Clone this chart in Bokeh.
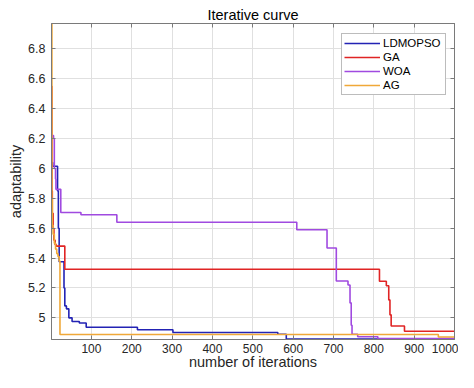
from bokeh.plotting import figure
from bokeh.models import Range1d, FixedTicker, LinearAxis, CustomJSTickFormatter
from bokeh.embed import file_html
from bokeh.resources import INLINE

# ---- data ----
iter_ldmopso = [1, 4, 16, 18, 20, 32, 34, 38, 44, 52, 70, 87, 214, 302, 562, 583, 1000]
fit_ldmopso = [6.04, 6.015, 5.85, 5.6, 5.375, 5.2, 5.08, 5.06, 5.0, 4.975, 4.965, 4.937,
               4.92, 4.902, 4.89, 4.858, 4.858]

iter_ga = [1, 2, 3, 5, 7, 10, 13, 34, 814, 831, 837, 840, 843, 876, 1000]
fit_ga = [6.55, 5.85, 5.7, 5.6, 5.52, 5.49, 5.48, 5.325, 5.245, 5.215, 5.12, 5.02,
          4.945, 4.91, 4.91]

iter_woa = [1, 6, 8, 11, 12, 24, 74, 163, 609, 684, 707, 736, 741, 744, 746, 760, 810, 1000]
fit_woa = [6.22, 6.2, 6.0, 5.93, 5.86, 5.705, 5.69, 5.64, 5.59, 5.467, 5.247, 5.22,
           5.1, 4.95, 4.89, 4.873, 4.862, 4.862]

iter_ag = [1, 2, 3, 5, 8, 11, 14, 17, 20, 22, 960, 1000]
fit_ag = [6.97, 5.8, 5.62, 5.56, 5.5, 5.46, 5.43, 5.41, 5.38, 4.888, 4.872, 4.872]

series_names = ["LDMOPSO", "GA", "WOA", "AG"]
x_ticks = [100, 200, 300, 400, 500, 600, 700, 800, 900, 1000]
y_ticks = [5.0, 5.2, 5.4, 5.6, 5.8, 6.0, 6.2, 6.4, 6.6, 6.8]

title_text = "Iterative curve"
x_label = "number of iterations"
y_label = "adaptability"

# ---- styling ----
colors = ["#2323b4", "#e02424", "#a04ae0", "#f0a838"]
FONT = "Liberation Sans"
AXIS_COL = "#7a7a7a"
TXT_COL = "#262626"

x0, x1 = 1, 1000
y0, y1 = 4.855, 6.97

p = figure(width=458, height=372,
           min_border_left=51, min_border_right=4, min_border_top=23, min_border_bottom=32,
           x_range=Range1d(x0, x1), y_range=Range1d(y0, y1),
           output_backend="svg", toolbar_location=None, title=title_text)

p.title.align = "center"
p.title.text_font = FONT
p.title.text_font_size = "14.5px"
p.title.text_font_style = "normal"
p.title.text_color = "#000000"
p.title.standoff = 1
p.title.offset = 0

p.background_fill_color = "white"
p.border_fill_color = "white"
p.outline_line_color = AXIS_COL
p.outline_line_width = 1

xt = FixedTicker(ticks=x_ticks)
yt = FixedTicker(ticks=y_ticks)
yfmt = CustomJSTickFormatter(code="return tick.toFixed(1).replace(/\\.0$/, '');")
blank = CustomJSTickFormatter(code="return '';")

for ax in p.xaxis:
    ax.ticker = xt
for ax in p.yaxis:
    ax.ticker = yt
    ax.formatter = yfmt

for ax in list(p.xaxis) + list(p.yaxis):
    ax.axis_line_color = AXIS_COL
    ax.major_tick_line_color = AXIS_COL
    ax.major_tick_in = 4
    ax.major_tick_out = 0
    ax.minor_tick_line_color = None
    ax.major_label_text_font = FONT
    ax.major_label_text_color = TXT_COL
    ax.axis_label_text_font = FONT
    ax.axis_label_text_font_size = "14.5px"
    ax.axis_label_text_font_style = "normal"
    ax.axis_label_text_color = TXT_COL
p.xaxis.major_label_text_font_size = "12px"
p.yaxis.major_label_text_font_size = "12.5px"
p.xaxis.major_label_standoff = 4
p.yaxis.major_label_standoff = 6
p.xaxis.axis_label = x_label
p.yaxis.axis_label = y_label
p.xaxis.axis_label_standoff = -2
p.yaxis.axis_label_standoff = 1

# top and right axes: ticks only
top = LinearAxis(ticker=FixedTicker(ticks=x_ticks), formatter=blank,
                 major_label_standoff=0, major_tick_in=4, major_tick_out=0,
                 minor_tick_line_color=None, axis_line_color=AXIS_COL,
                 major_tick_line_color=AXIS_COL)
right = LinearAxis(ticker=FixedTicker(ticks=y_ticks), formatter=blank,
                   major_label_standoff=0, major_tick_in=4, major_tick_out=0,
                   minor_tick_line_color=None, axis_line_color=AXIS_COL,
                   major_tick_line_color=AXIS_COL)
p.add_layout(top, "above")
p.add_layout(right, "right")

p.xgrid.ticker = xt
p.ygrid.ticker = yt
p.xgrid.grid_line_color = "#e0e0e0"
p.ygrid.grid_line_color = "#e0e0e0"

data = [(iter_ldmopso, fit_ldmopso), (iter_ga, fit_ga), (iter_woa, fit_woa), (iter_ag, fit_ag)]
for (xs, ys), name, c in zip(data, series_names, colors):
    p.step(xs, ys, mode="after", line_color=c, line_width=1.6, legend_label=name)

leg = p.legend[0]
leg.location = (290, 244)
leg.margin = 0
leg.padding = 2
leg.spacing = 0
leg.label_height = 14
leg.glyph_height = 14
leg.glyph_width = 36
leg.label_width = 60
leg.label_standoff = 3
leg.label_text_font = FONT
leg.label_text_font_size = "11.5px"
leg.label_text_color = "#000000"
leg.border_line_color = AXIS_COL
leg.border_line_width = 1
leg.background_fill_color = "white"
leg.background_fill_alpha = 1

open("out.html", "w").write(file_html(p, INLINE))
